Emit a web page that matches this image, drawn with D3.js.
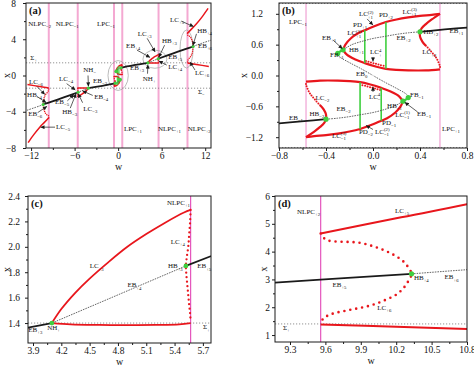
<!DOCTYPE html>
<html>
<head>
<meta charset="utf-8">
<script src="https://cdn.jsdelivr.net/npm/d3@7"></script>
<style>
  body { margin: 0; background: #fff; }
  text { font-family: "Liberation Serif", "Times New Roman", serif; fill: #111; }
</style>
</head>
<body>
<svg id="chart" width="474" height="365"></svg>
<script>
// Values. The system is odd-symmetric, so only the
// positive side is listed; the negative side is the mirror (w,x) -> (-w,-x).

// equilibrium branches
const eqEB1 = [[0.4, 0.85], [0.8, 0.93], [2.4, 1.16], [4.1, 1.4]];        // stable, up to NH+
const eqEB4 = [[4.1, 1.4], [5.52, 1.85]];                                   // unstable
const eqEB5 = [[5.52, 1.85], [7.5, 2.42], [9.56, 2.99], [10.33, 3.2]];      // stable
const eqEB6 = [[10.33, 3.2], [10.8, 3.35], [12.8, 3.9]];                    // unstable
const eqEB2 = [[0.4, 0.85], [0.3, 0.83], [0.2, 0.8], [0.1, 0.76], [0, 0.72], [-0.1, 0.66], [-0.18, 0.6], [-0.255, 0.5]];
const eqFold = [[-0.255, 0.5], [-0.285, 0.46], [-0.3, 0.43]];
const eqMiddle = [[-0.3, 0.43], [-0.295, 0.39], [-0.27, 0.34], [-0.2, 0.25], [-0.1, 0.13], [0, 0]];

// limit cycle branches around the origin (panel b)
const lcTop = [[-0.255, 0.5], [-0.235, 0.6], [-0.19, 0.72], [-0.12, 0.83], [-0.07, 0.88], [0, 0.95], [0.11, 1.04], [0.2, 1.09], [0.3, 1.13], [0.4, 1.16], [0.5, 1.18], [0.57, 1.2]];
const lcRight = [[0.57, 1.2], [0.5, 1.09], [0.45, 1.0], [0.415, 0.92], [0.4, 0.85], [0.4, 0.76], [0.42, 0.66], [0.45, 0.58]];
const lcRightUnstable = [[0.45, 0.58], [0.49, 0.48], [0.53, 0.37], [0.555, 0.27], [0.57, 0.17], [0.57, 0.12]];
const lcBottom = [[0.57, 0.12], [0.45, 0.1], [0.3, 0.1], [0.2, 0.11], [0.11, 0.13], [0.03, 0.17], [-0.07, 0.24], [-0.15, 0.31], [-0.22, 0.4], [-0.255, 0.5]];
const lcPD = [[-0.06, 0.28], [-0.02, 0.255], [0.02, 0.23], [0.06, 0.205], [0.1, 0.185]];
const pdLines = [[-0.07, 0.24, 0.88], [0.11, 0.13, 1.04]];   // w, x bottom, x top

// limit cycles from NH+ (panel c)
const lcNH = [[4.1, 1.4], [4.2, 1.51], [4.35, 1.64], [4.5, 1.75], [4.7, 1.88], [4.9, 2.0], [5.1, 2.1], [5.3, 2.19], [5.5, 2.27], [5.57, 2.29]];
const lcNHLow = [[4.1, 1.4], [4.3, 1.39], [4.6, 1.385], [4.9, 1.383], [5.2, 1.385], [5.45, 1.39], [5.57, 1.4]];
const lcNHUnstable = [[5.57, 2.29], [5.565, 2.2], [5.555, 2.1], [5.545, 2.0], [5.53, 1.92], [5.52, 1.85], [5.525, 1.78], [5.535, 1.7], [5.545, 1.62], [5.555, 1.54], [5.565, 1.47], [5.57, 1.41]];

// limit cycles near w = 9.56 (panel d)
const lcOuter = [[9.56, 4.65], [10.2, 5.2], [10.8, 5.7], [11.6, 6.5], [12.4, 7.4]];
const lcOuterLow = [[9.56, 1.38], [10.2, 1.3], [10.8, 1.22], [12.5, 1.0]];
const lcOuterUnstable = [[9.56, 4.65], [9.58, 4.52], [9.61, 4.42], [9.66, 4.37], [9.72, 4.36], [9.78, 4.35], [9.84, 4.34], [9.9, 4.31], [9.96, 4.25], [10.02, 4.17], [10.08, 4.08], [10.14, 3.97], [10.2, 3.83], [10.26, 3.65], [10.3, 3.45], [10.33, 3.2], [10.3, 2.92], [10.26, 2.68], [10.21, 2.48], [10.15, 2.34], [10.09, 2.23], [10.03, 2.13], [9.97, 2.05], [9.91, 1.99], [9.85, 1.94], [9.79, 1.89], [9.73, 1.84], [9.67, 1.78], [9.62, 1.7], [9.58, 1.58], [9.56, 1.42]];

// bifurcation points (HB, FB, NH) and limit points of cycles
const bifPoints = [[-0.255, 0.5], [-0.3, 0.43], [0.4, 0.85], [4.1, 1.4], [5.52, 1.85], [10.33, 3.2]];
const lpcW = [0.57, 5.57, 9.56];
const sigmaX = [1.4, -1.4];
const zoomEllipses = [[0, 0, 1.4, 1.65], [5.07, 1.8, 1.65, 1.0], [9.43, 2.92, 0.9, 2.1]];

// ticks
const ticksA = { x: [-12, -6, 0, 6, 12], xm: [-9, -3, 3, 9], y: [-8, -4, 0, 4, 8], ym: [-6, -2, 2, 6] };
const ticksB = { x: [-0.8, -0.4, 0, 0.4, 0.8], xm: [-0.6, -0.2, 0.2, 0.6], y: [-1.2, -0.6, 0, 0.6, 1.2], ym: [-0.9, -0.3, 0.3, 0.9] };
const ticksC = { x: [3.9, 4.2, 4.5, 4.8, 5.1, 5.4, 5.7], xm: [4.05, 4.35, 4.65, 4.95, 5.25, 5.55], y: [1.4, 1.6, 1.8, 2.0, 2.2, 2.4], ym: [1.5, 1.7, 1.9, 2.1, 2.3] };
const ticksD = { x: [9.3, 9.6, 9.9, 10.2, 10.5, 10.8], xm: [9.45, 9.75, 10.05, 10.35, 10.65], y: [1, 2, 3, 4, 5, 6], ym: [1.5, 2.5, 3.5, 4.5, 5.5] };

// labels: text, subscript, superscript, w, x
const labelsA = [
  ["NLPC", "−2", "", -12.4, 5.5], ["NLPC", "−1", "", -8.6, 5.5], ["LPC", "−1", "", -2.9, 5.5],
  ["LPC", "+1", "", 0.8, -6.1], ["NLPC", "+1", "", 5.5, -6.1], ["NLPC", "+2", "", 9.6, -6.1],
  ["Σ", "+", "", -12.1, 1.7], ["Σ", "−", "", 11.0, -2.0],
  ["LC", "−6", "", -12.3, -0.95], ["HB", "−4", "", -12.55, -2.4], ["EB", "−6", "", -12.4, -4.5],
  ["LC", "−5", "", -8.55, -5.9], ["LC", "−4", "", -8.15, -0.6], ["EB", "−5", "", -8.7, -3.15],
  ["HB", "−3", "", -7.7, -4.25], ["LC", "−3", "", -4.8, -3.9], ["EB", "−4", "", -3.3, -2.6],
  ["NH", "−", "", -4.8, 0.4], ["EB", "−3", "", -3.45, -0.8], ["EB", "+3", "", 1.65, 0.6],
  ["NH", "+", "", 3.4, -0.6], ["EB", "+4", "", 1.1, 3.0], ["LC", "+3", "", 2.7, 4.35],
  ["HB", "+3", "", 6.05, 3.6], ["EB", "+5", "", 6.9, 1.8], ["LC", "+4", "", 6.9, 0.7],
  ["HB", "+4", "", 10.9, 4.7], ["EB", "+6", "", 11.0, 3.0], ["LC", "+6", "", 10.6, 0.05],
  ["LC", "+5", "", 7.15, 5.9]
];
const arrowsA = [
  [-11.2, -1.2, -10.1, -2.1], [-11.2, -2.3, -9.9, -3.0], [-11.1, -4.1, -9.8, -3.4], [-8.7, -5.7, -10.7, -5.7],
  [-7.1, -0.9, -5.9, -1.6], [-7.0, -2.8, -6.1, -2.1], [-6.6, -3.6, -5.8, -2.0], [-4.9, -3.0, -5.5, -2.0],
  [-3.5, -2.2, -4.9, -1.7], [-4.15, 0.0, -4.1, -1.2], [4.05, 0.2, 4.1, 1.2], [2.6, 2.8, 4.4, 2.0],
  [4.0, 4.1, 5.1, 2.6], [6.4, 3.35, 5.6, 2.0], [6.7, 1.15, 5.6, 1.6], [10.8, 4.6, 10.3, 3.3],
  [10.6, 0.6, 9.9, 1.5], [8.7, 6.0, 10.4, 5.4]
];
const labelsB = [
  ["LPC", "−1", "", -0.715, 1.01], ["LPC", "+1", "", 0.587, -1.07],
  ["EB", "+1", "", -0.434, 0.70], ["FB", "+1", "", -0.366, 0.36], ["HB", "+1", "", -0.204, 0.45],
  ["LC", "+1", "(1)", -0.22, 0.78], ["PD", "+1", "", -0.17, 0.94], ["LC", "+1", "(2)", -0.12, 1.15],
  ["PD", "+2", "", 0.05, 1.13], ["LC", "+1", "(3)", 0.25, 1.2], ["EB", "+2", "", 0.2, 0.69],
  ["HB", "+2", "", 0.43, 0.8], ["EB", "+1", "", 0.65, 0.82], ["LC", "+2", "", 0.42, 0.41],
  ["LC", "+", "4", -0.025, 0.41], ["EB", "0", "", -0.145, 0.0], ["LC", "−", "4", -0.035, -0.45],
  ["HB", "−1", "", 0.12, -0.63], ["FB", "−1", "", 0.315, -0.42], ["EB", "−1", "", 0.375, -0.78],
  ["LC", "−1", "(1)", 0.19, -0.8], ["PD", "−1", "", 0.077, -0.96], ["LC", "−1", "(2)", 0.017, -1.13],
  ["PD", "−2", "", -0.12, -1.13], ["LC", "−1", "(3)", -0.35, -1.21], ["HB", "−2", "", -0.54, -0.78],
  ["EB", "−2", "", -0.31, -0.69], ["EB", "−1", "", -0.715, -0.86], ["LC", "−2", "", -0.49, -0.47]
];
const arrowsB = [
  [-0.34, 0.69, -0.26, 0.52], [-0.05, 1.1, 0.0, 0.98], [0.0, 0.36, 0.0, 0.27],
  [0.0, -0.32, 0.0, -0.22], [0.38, -0.71, 0.27, -0.52], [0.0, -1.05, -0.06, -0.97]
];
const labelsC = [
  ["NLPC", "+1", "", 5.32, 2.33], ["LC", "+4", "", 5.36, 2.02], ["HB", "+3", "", 5.33, 1.83],
  ["EB", "+5", "", 5.64, 1.83], ["LC", "+3", "", 4.5, 1.83], ["EB", "+4", "", 4.9, 1.68],
  ["NH", "+", "", 4.05, 1.345], ["EB", "+3", "", 3.85, 1.33], ["Σ", "+", "", 5.7, 1.35]
];
const labelsD = [
  ["NLPC", "+2", "", 9.36, 5.35], ["LC", "+5", "", 10.19, 5.39], ["EB", "+5", "", 9.66, 2.73],
  ["HB", "+4", "", 10.35, 2.98], ["EB", "+6", "", 10.61, 3.0], ["LC", "+6", "", 10.04, 1.9],
  ["Σ", "+", "", 9.24, 1.18]
];

const RED = "#e8161c", GREEN = "#3fcf3f", BLACK = "#1a1a1a";
const mirror = (pts) => pts.map((p) => [-p[0], -p[1]]);
const svg = d3.select("#chart");

const defs = svg.append("defs");
defs.append("marker").attr("id", "arr").attr("viewBox", "0 0 6 6")
  .attr("refX", 6).attr("refY", 3).attr("markerWidth", 5).attr("markerHeight", 4)
  .attr("markerUnits", "userSpaceOnUse").attr("orient", "auto")
  .append("path").attr("d", "M0,0L6,3L0,6z").attr("fill", BLACK);

function addLabel(g, px, py, base, sub, sup, size) {
  const t = g.append("text").attr("x", px).attr("y", py).style("font-size", size + "px");
  t.append("tspan").text(base);
  const len = t.node().getComputedTextLength();
  if (sup) t.append("tspan").attr("x", px + len).attr("dy", -size * 0.4).style("font-size", size * 0.68 + "px").text(sup);
  if (sub) t.append("tspan").attr("x", px + len).attr("dy", sup ? size * 0.75 : size * 0.3).style("font-size", size * 0.68 + "px").text(sub);
}

function drawPanel(p) {
  const x = d3.scaleLinear().domain(p.xd).range([p.left, p.right]);
  const y = d3.scaleLinear().domain(p.yd).range([p.bottom, p.top]);
  const line = d3.line().x((d) => x(d[0])).y((d) => y(d[1])).curve(d3.curveCatmullRom.alpha(0.5));

  defs.append("clipPath").attr("id", "clip-" + p.id).append("rect")
    .attr("x", p.left).attr("y", p.top).attr("width", p.right - p.left).attr("height", p.bottom - p.top);
  const g = svg.append("g").attr("clip-path", `url(#clip-${p.id})`);

  // limit points of cycles
  lpcW.concat(lpcW.map((w) => -w)).forEach((w) => {
    g.append("line").attr("x1", x(w)).attr("x2", x(w)).attr("y1", p.top).attr("y2", p.bottom)
      .attr("stroke", p.pink).attr("stroke-width", p.pinkW);
  });
  // switching manifolds
  sigmaX.forEach((v) => {
    g.append("line").attr("x1", p.left).attr("x2", p.right).attr("y1", y(v)).attr("y2", y(v))
      .attr("stroke", "#777").attr("stroke-width", 0.8).attr("stroke-dasharray", "1.2,1.8");
  });
  if (p.ellipses) {
    zoomEllipses.forEach((e) => {
      g.append("ellipse").attr("cx", x(e[0])).attr("cy", y(e[1]))
        .attr("rx", x(e[2]) - x(0)).attr("ry", y(0) - y(e[3]))
        .attr("fill", "none").attr("stroke", "#aaa").attr("stroke-width", 0.8);
    });
  }

  const solidRed = [lcTop, lcRight, lcBottom, lcNH, lcNHLow, lcOuter, lcOuterLow];
  const dotRed = [lcRightUnstable, lcPD, lcNHUnstable, lcOuterUnstable];
  [1, -1].forEach((s) => {
    const f = (pts) => (s > 0 ? pts : mirror(pts));
    solidRed.forEach((c) => g.append("path").attr("d", line(f(c))).attr("fill", "none")
      .attr("stroke", RED).attr("stroke-width", p.redW).attr("stroke-linejoin", "round"));
    dotRed.forEach((c) => g.append("path").attr("d", line(f(c))).attr("fill", "none")
      .attr("stroke", RED).attr("stroke-width", p.dotW).attr("stroke-linecap", "round")
      .attr("stroke-dasharray", `0,${p.dotGap}`));
    pdLines.forEach((d) => {
      const w = s * d[0];
      g.append("line").attr("x1", x(w)).attr("x2", x(w)).attr("y1", y(s * d[1])).attr("y2", y(s * d[2]))
        .attr("stroke", GREEN).attr("stroke-width", p.greenW);
    });
    [eqEB1, eqEB5].forEach((c) => g.append("path").attr("d", line(f(c))).attr("fill", "none")
      .attr("stroke", BLACK).attr("stroke-width", p.eqW));
    [eqEB4, eqEB6, eqEB2, eqMiddle].forEach((c) => g.append("path").attr("d", line(f(c))).attr("fill", "none")
      .attr("stroke", "#555").attr("stroke-width", 0.9).attr("stroke-dasharray", "1.6,1"));
    g.append("path").attr("d", line(f(eqFold))).attr("fill", "none")
      .attr("stroke", GREEN).attr("stroke-width", p.greenW + 0.6);
    f(bifPoints).forEach((d) => g.append("circle").attr("cx", x(d[0])).attr("cy", y(d[1]))
      .attr("r", p.ptR).attr("fill", GREEN));
  });

  // frame and axes
  svg.append("rect").attr("x", p.left).attr("y", p.top).attr("width", p.right - p.left)
    .attr("height", p.bottom - p.top).attr("fill", "none").attr("stroke", BLACK).attr("stroke-width", 1);
  const ax = svg.append("g").attr("transform", `translate(0,${p.bottom})`)
    .call(d3.axisBottom(x).tickValues(p.ticks.x).tickFormat(p.fx).tickSize(3).tickPadding(1));
  svg.append("g").attr("transform", `translate(0,${p.bottom})`)
    .call(d3.axisBottom(x).tickValues(p.ticks.xm).tickFormat("").tickSize(2));
  const ay = svg.append("g").attr("transform", `translate(${p.left},0)`)
    .call(d3.axisLeft(y).tickValues(p.ticks.y).tickFormat(p.fy).tickSize(3).tickPadding(p.yPad));
  svg.append("g").attr("transform", `translate(${p.left},0)`)
    .call(d3.axisLeft(y).tickValues(p.ticks.ym).tickFormat("").tickSize(2));
  svg.selectAll(".domain").attr("stroke", "none");
  svg.selectAll(".tick line").attr("stroke", BLACK);
  [ax, ay].forEach((a) => a.selectAll("text").style("font-size", "9.5px")
    .style("font-family", '"Liberation Serif", serif').attr("fill", "#222"));

  svg.append("text").attr("x", (p.left + p.right) / 2).attr("y", p.bottom + p.wOff)
    .attr("text-anchor", "middle").style("font-size", "10px").text("w");
  svg.append("text").attr("transform", `translate(${p.xLabelX},${(p.top + p.bottom) / 2}) rotate(-90)`)
    .attr("text-anchor", "middle").style("font-size", "10px").text("x");
  svg.append("text").attr("x", p.left + 3).attr("y", p.top + 11)
    .style("font-size", "10.5px").style("font-weight", "bold").text(`(${p.id})`);

  const lg = svg.append("g");
  p.labels.forEach((l) => addLabel(lg, x(l[3]), y(l[4]), l[0], l[1], l[2], p.labelSize));
  (p.arrows || []).forEach((a) => lg.append("line")
    .attr("x1", x(a[0])).attr("y1", y(a[1])).attr("x2", x(a[2])).attr("y2", y(a[3]))
    .attr("stroke", BLACK).attr("stroke-width", 0.7).attr("marker-end", "url(#arr)"));
}

const f1 = d3.format(".1f");
drawPanel({ id: "a", left: 26, right: 211, top: 3, bottom: 148, xd: [-12.7, 12.8], yd: [-8, 8],
  ticks: ticksA, fx: d3.format("d"), fy: d3.format("d"), labels: labelsA, arrows: arrowsA,
  pink: "#f4a9d2", pinkW: 2, redW: 1.5, dotW: 1.5, dotGap: 2, eqW: 1.8, greenW: 1.2, ptR: 1.6,
  labelSize: 7, ellipses: true, xLabelX: 10, yPad: 7, wOff: 22 });
drawPanel({ id: "b", left: 279, right: 467, top: 3, bottom: 148, xd: [-0.8, 0.8], yd: [-1.41, 1.41],
  ticks: ticksB, fx: f1, fy: f1, labels: labelsB, arrows: arrowsB,
  pink: "#ec8fcb", pinkW: 1, redW: 2.2, dotW: 2, dotGap: 2.6, eqW: 1.8, greenW: 1.6, ptR: 2.6,
  labelSize: 7, xLabelX: 247, yPad: 13, wOff: 22 });
drawPanel({ id: "c", left: 28, right: 211, top: 196, bottom: 343, xd: [3.847, 5.786], yd: [1.243, 2.4],
  ticks: ticksC, fx: f1, fy: f1, labels: labelsC,
  pink: "#e455bd", pinkW: 1.2, redW: 1.8, dotW: 2.3, dotGap: 4.5, eqW: 1.8, greenW: 1.6, ptR: 2.4,
  labelSize: 7, xLabelX: 10, yPad: 5, wOff: 21.5 });
drawPanel({ id: "d", left: 275, right: 467, top: 196, bottom: 342, xd: [9.173, 10.8], yd: [0.75, 6],
  ticks: ticksD, fx: f1, fy: d3.format("d"), labels: labelsD,
  pink: "#e455bd", pinkW: 1.2, redW: 2, dotW: 2.6, dotGap: 6, eqW: 1.8, greenW: 1.6, ptR: 2.6,
  labelSize: 7, xLabelX: 267, yPad: 2, wOff: 21.5 });
</script>
</body>
</html>
